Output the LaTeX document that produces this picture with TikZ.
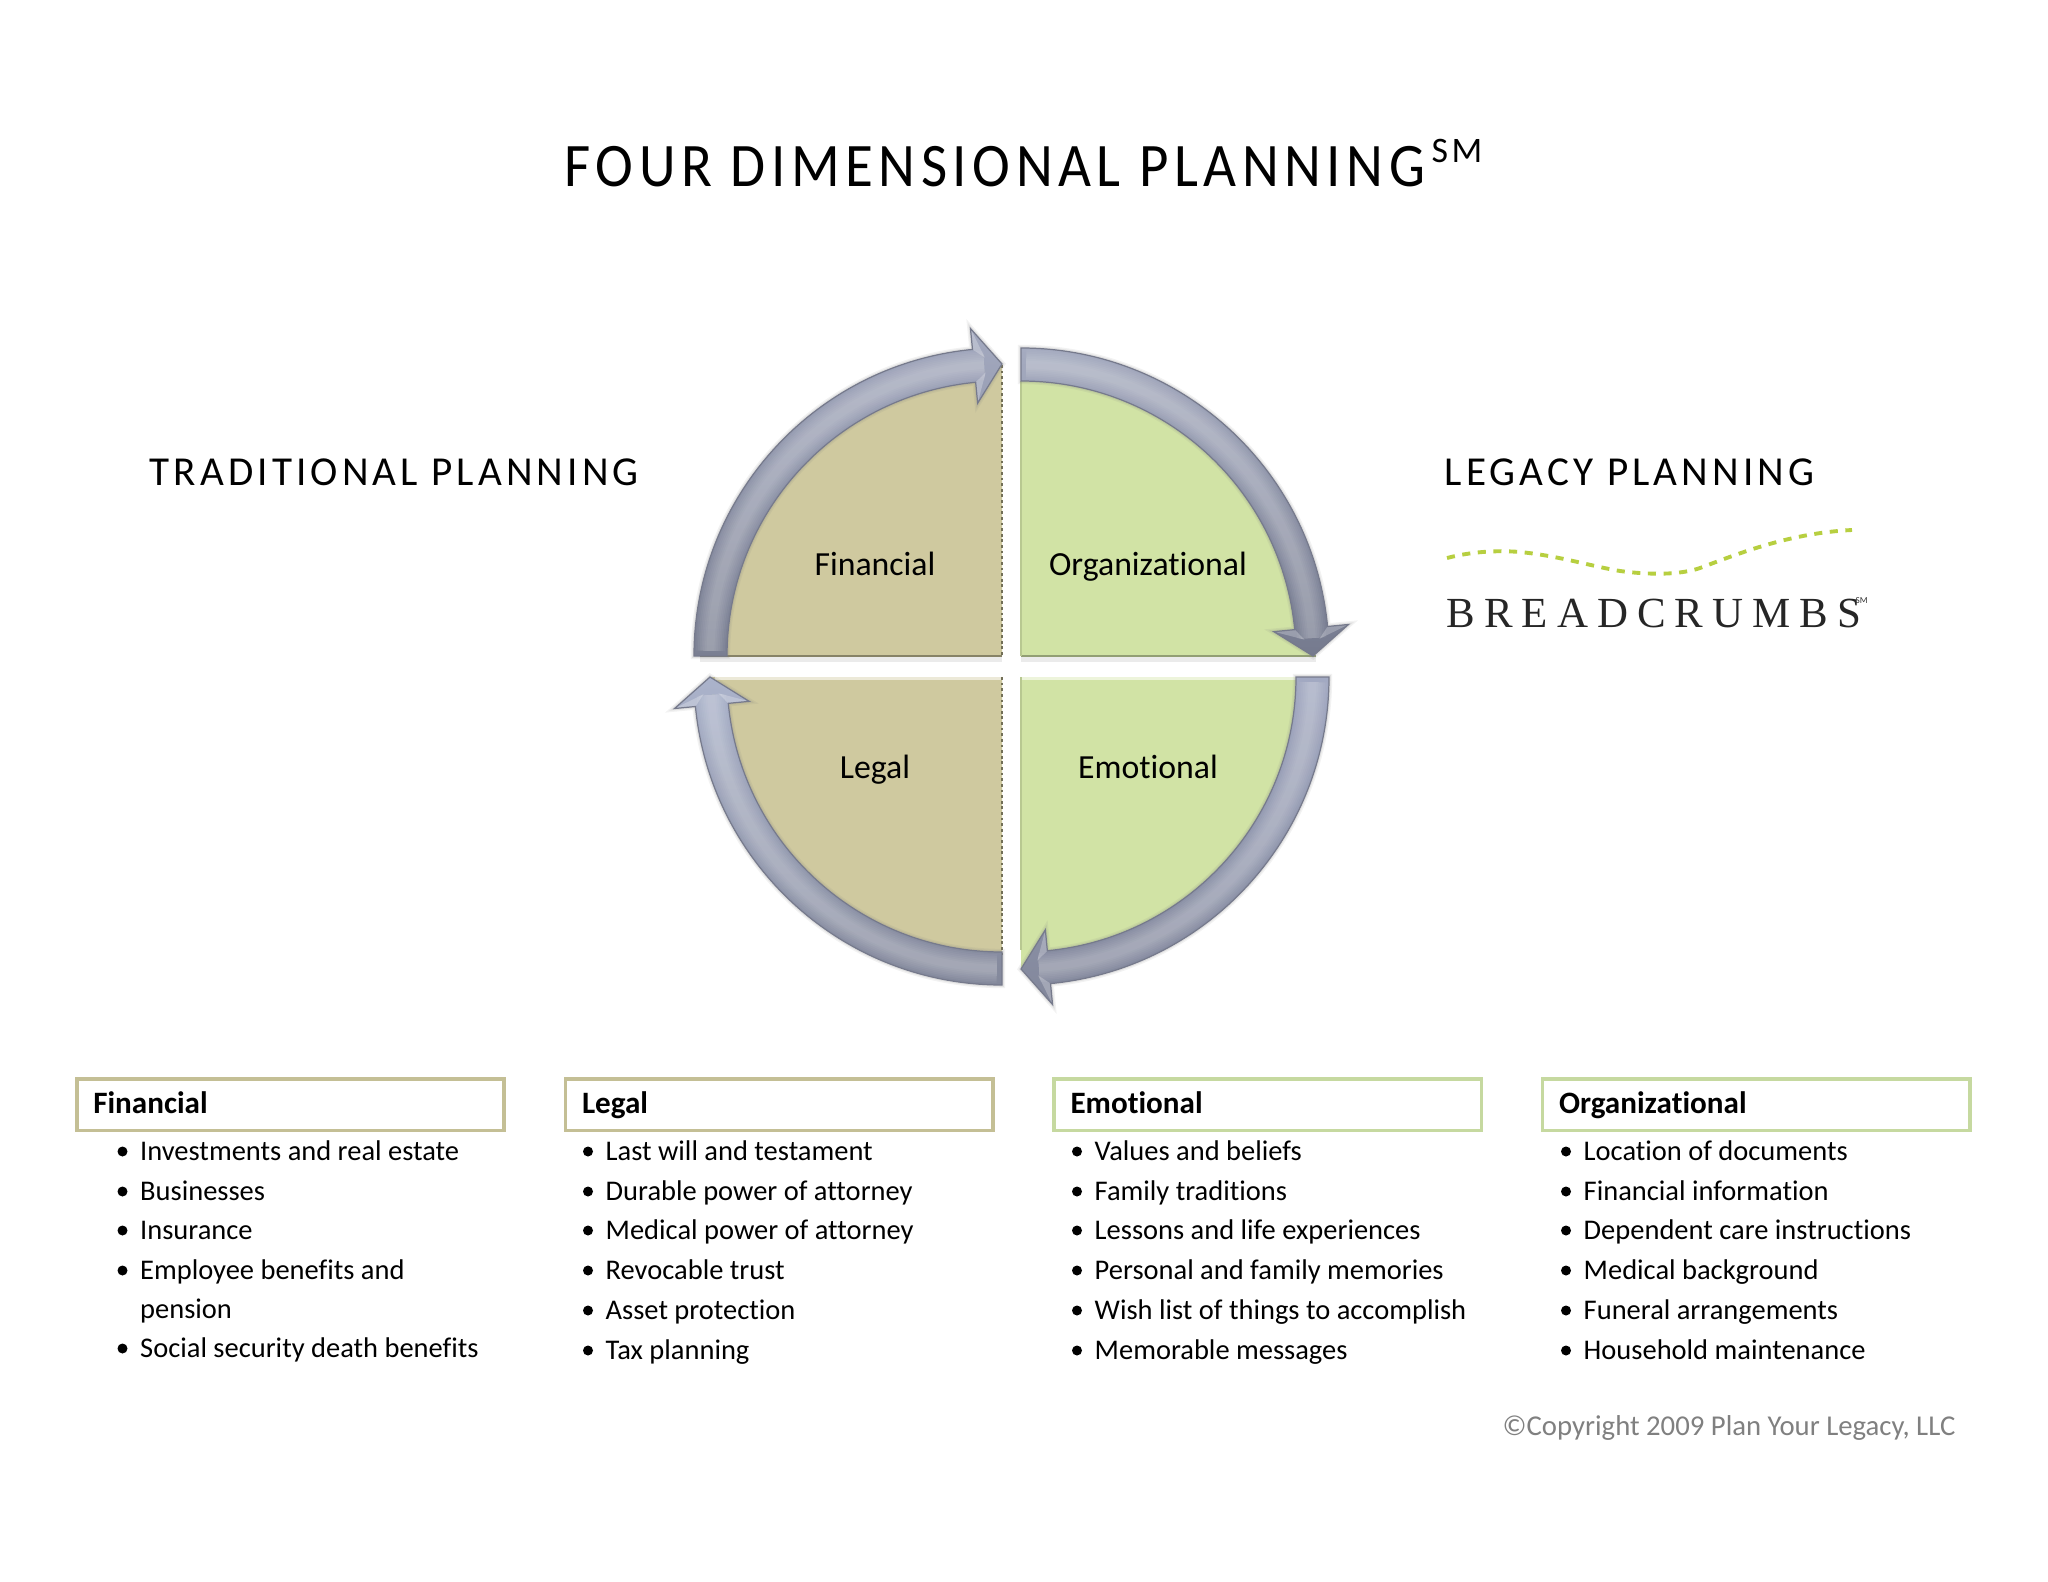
\documentclass[tikz,border=0pt]{standalone}
\usepackage{fontspec}
\setmainfont[Ligatures=NoCommon]{Carlito}
\newfontfamily\trackedA[LetterSpace=9,FakeStretch=0.92,Ligatures=NoCommon]{Carlito}
\newfontfamily\trackedB[LetterSpace=10,Ligatures=NoCommon]{Carlito}
\newfontfamily\trackedC[LetterSpace=10,Ligatures=NoCommon]{Carlito}
\newfontfamily\logofont[LetterSpace=21]{Liberation Serif}
\definecolor{tanfill}{HTML}{CFC99F}
\definecolor{greenfill}{HTML}{D1E3A5}
\definecolor{tanedge}{HTML}{C4BF95}
\definecolor{greenedge}{HTML}{C6D9A0}
\definecolor{ringedge}{HTML}{767A8C}
\definecolor{crumb}{HTML}{B7CF40}
\definecolor{ringAt}{HTML}{A3A9BF}\definecolor{ringAb}{HTML}{7A7F92}
\definecolor{ringBt}{HTML}{A5ABC0}\definecolor{ringBb}{HTML}{757A8E}
\definecolor{ringCt}{HTML}{A2A9C2}\definecolor{ringCb}{HTML}{82879B}
\definecolor{ringDt}{HTML}{ABB3CB}\definecolor{ringDb}{HTML}{83889B}
\tikzset{
  bodytext/.style={anchor=base west,inner sep=0pt,font=\fontsize{8.1}{10}\selectfont},
  quadlabel/.style={anchor=base,inner sep=0pt,font=\fontsize{9.6}{11}\selectfont},
  headbox/.style={anchor=west,draw,line width=1pt,fill=white,align=left,text width=3.94cm,
    minimum width=4.27cm,minimum height=0.515cm,inner xsep=0.165cm,inner ysep=0pt,outer sep=0pt,
    text height=6.5pt,text depth=1.66pt,font=\fontsize{8.85}{10}\selectfont\bfseries},
  section/.style={anchor=base west,inner sep=0pt,font=\trackedB\fontsize{11.7}{14}\selectfont}
}
% quadrant: origin, start angle, fill colour
\newcommand{\quadrant}[4]{%
  \fill[#4] (#1,#2) -- ++(#3:290) arc[start angle=#3,end angle=#3+90,radius=290] -- cycle;}
% ring arrow: origin, start angle, top colour, bottom colour
\newcommand{\ringarrow}[5]{%
  \begin{scope}[shift={(#1,#2)}]
    \pgfmathsetmacro{\ab}{#3+84.5}\pgfmathsetmacro{\ae}{#3+90}
    \def\ringpath{(#3:275) -- (#3:308) arc[start angle=#3,end angle=\ab,radius=308]
      -- (\ab:329) -- (\ae:292) -- (\ab:254) -- (\ab:275)
      arc[start angle=\ab,end angle=#3,radius=275] -- cycle}
    \draw[gray,opacity=.10,line width=1.8pt] \ringpath;
    \draw[gray,opacity=.14,line width=1pt] \ringpath;
    \shade[top color=#4,bottom color=#5] \ringpath;
    \foreach \w in {8.2,7.2,6.2,5.2,4.2,3.2,2.2}{
      \draw[white,opacity=.045,line width=\w pt] (#3+1:291.5) arc[start angle=#3+1,end angle=\ab+2,radius=291.5];}
    \fill[white,opacity=.25] (\ab:329) -- (\ab:308) -- (\ab+2.2:299) -- cycle;
    \fill[white,opacity=.25] (\ab:254) -- (\ab:275) -- (\ab+2.2:284) -- cycle;
    \draw[ringedge,line width=.35pt,line join=miter] \ringpath;
  \end{scope}}
\newcommand{\bulitem}[4]{%
  \fill (#2-17,#3-9) circle[radius=5];
  \node[bodytext] (#1) at (#2,#3) {#4};}
\begin{document}
\begin{tikzpicture}[x=0.01cm,y=-0.01cm]
\useasboundingbox (0,0) rectangle (2048,1582);
\fill[white] (0,0) rectangle (2048,1582);

% title
\node[anchor=base west,inner sep=0pt,font=\trackedA\fontsize{17.6}{20}\selectfont] (title) at (564,187) {FOUR DIMENSIONAL PLANNING};
\node[anchor=base west,inner sep=0pt,font=\trackedC\fontsize{10.2}{14}\selectfont] (titlesm) at (1431,162.5) {SM};

% side headings
\node[section] (traditional) at (149,485) {TRADITIONAL PLANNING};
\node[section] (legacy) at (1444,485) {LEGACY PLANNING};

% logo
\draw[crumb,line width=1.1pt,dash pattern=on 2.3pt off 2.15pt]
  (1447,558) .. controls (1470,552) and (1495,550) .. (1520,552)
  .. controls (1560,556) and (1590,566) .. (1620,571)
  .. controls (1650,575) and (1680,575) .. (1700,568)
  .. controls (1740,553) and (1790,533) .. (1852,530);
\node[anchor=base west,inner sep=0pt,font=\logofont\fontsize{12.2}{14}\selectfont,text=black!85] (logo) at (1446,627) {BREADCRUMBS};
\node[anchor=base west,inner sep=0pt,font=\fontsize{2.6}{3}\selectfont,text=black!80] (logosm) at (1855,603) {SM};

% quadrants
\quadrant{1002}{656}{180}{tanfill}
\quadrant{1021}{656}{270}{greenfill}
\quadrant{1021}{677}{0}{greenfill}
\quadrant{1002}{677}{90}{tanfill}

% bevel edges of the quadrants
\draw[black!8,line width=1.2pt] (700,659.5) -- (1002,659.5);
\draw[black!8,line width=1.2pt] (1021,659.5) -- (1316,659.5);
\draw[black!35!tanfill,line width=.6pt] (700,656) -- (1002,656);
\draw[black!30!greenfill,line width=.6pt] (1021,656) -- (1316,656);
\draw[white!60!tanfill,line width=.9pt] (715,678.5) -- (1002,678.5);
\draw[white!60!greenfill,line width=.9pt] (1021,678.5) -- (1298,678.5);
\draw[black!45!tanfill,line width=.5pt,dash pattern=on .8pt off .8pt] (1002,365) -- (1002,656);
\draw[black!45!tanfill,line width=.5pt,dash pattern=on .8pt off .8pt] (1002,677) -- (1002,955);
\draw[black!12!greenfill,line width=.4pt] (1021,381) -- (1021,656) (1021,677) -- (1021,950);

% ring of arrows
\ringarrow{1002}{656}{180}{ringAt}{ringAb}
\ringarrow{1021}{656}{270}{ringBt}{ringBb}
\ringarrow{1021}{677}{0}{ringCt}{ringCb}
\ringarrow{1002}{677}{90}{ringDt}{ringDb}

% quadrant labels
\node[quadlabel] (qfin) at (875,575.5) {Financial};
\node[quadlabel] (qorg) at (1148,575.5) {Organizational};
\node[quadlabel] (qleg) at (875,778) {Legal};
\node[quadlabel] (qemo) at (1148,778) {Emotional};

% column headings
\node[headbox,draw=tanedge] (boxfin) at (76.75,1104.5) {Financial};
\node[headbox,draw=tanedge] (boxleg) at (565.5,1104.5) {Legal};
\node[headbox,draw=greenedge] (boxemo) at (1054,1104.5) {Emotional};
\node[headbox,draw=greenedge] (boxorg) at (1542.5,1104.5) {Organizational};

% financial column
\bulitem{f1}{139.5}{1160.5}{Investments and real estate}
\bulitem{f2}{139.5}{1200.5}{Businesses}
\bulitem{f3}{139.5}{1239.5}{Insurance}
\bulitem{f4}{139.5}{1279.5}{Employee benefits and}
\node[bodytext] (f4b) at (139.5,1318.5) {pension};
\bulitem{f5}{139.5}{1357.5}{Social security death benefits}

% legal column
\bulitem{l1}{605}{1160.5}{Last will and testament}
\bulitem{l2}{605}{1200.5}{Durable power of attorney}
\bulitem{l3}{605}{1239.5}{Medical power of attorney}
\bulitem{l4}{605}{1279.5}{Revocable trust}
\bulitem{l5}{605}{1319.5}{Asset protection}
\bulitem{l6}{605}{1359.5}{Tax planning}

% emotional column
\bulitem{e1}{1094}{1160.5}{Values and beliefs}
\bulitem{e2}{1094}{1200.5}{Family traditions}
\bulitem{e3}{1094}{1239.5}{Lessons and life experiences}
\bulitem{e4}{1094}{1279.5}{Personal and family memories}
\bulitem{e5}{1094}{1319.5}{Wish list of things to accomplish}
\bulitem{e6}{1094}{1359.5}{Memorable messages}

% organizational column
\bulitem{o1}{1583}{1160.5}{Location of documents}
\bulitem{o2}{1583}{1200.5}{Financial information}
\bulitem{o3}{1583}{1239.5}{Dependent care instructions}
\bulitem{o4}{1583}{1279.5}{Medical background}
\bulitem{o5}{1583}{1319.5}{Funeral arrangements}
\bulitem{o6}{1583}{1359.5}{Household maintenance}

\node[bodytext,font=\fontsize{8.17}{10}\selectfont,text=black!50] (copyright) at (1502,1435) {©Copyright 2009 Plan Your Legacy, LLC};
\end{tikzpicture}
\end{document}
